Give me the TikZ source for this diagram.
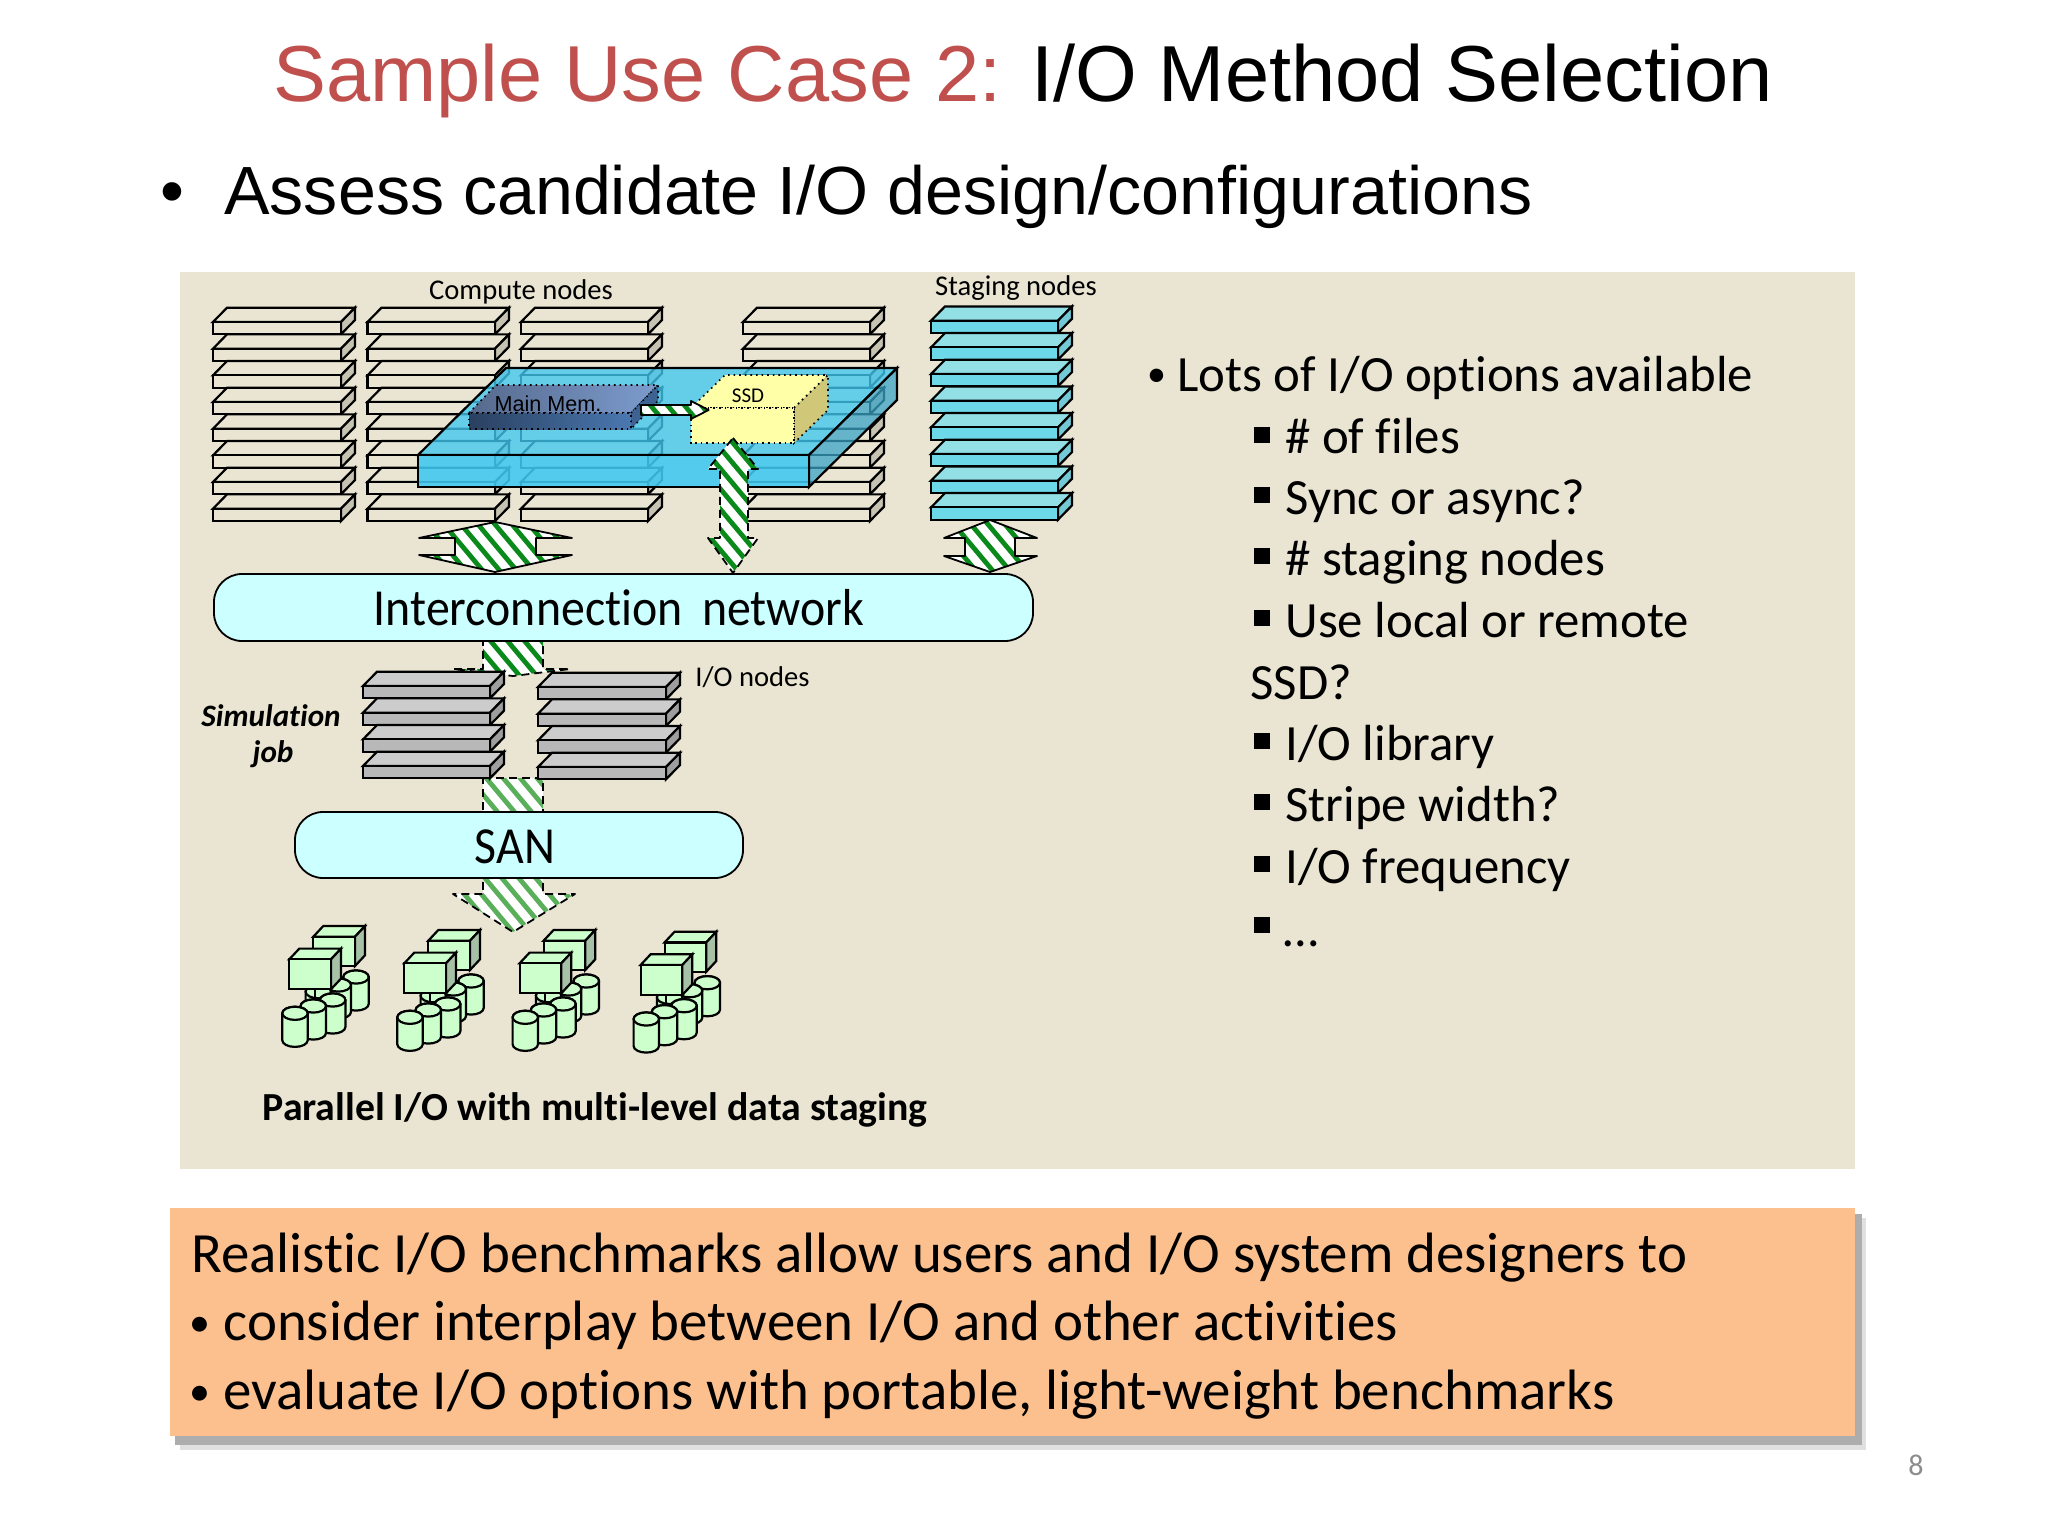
\documentclass[tikz,border=0pt]{standalone}
\usepackage{fontspec}
\setmainfont[Ligatures=CommonOff]{Carlito}
\newfontfamily\arialfont{Liberation Sans}
\newfontfamily\netfont[FakeStretch=0.92,Ligatures=CommonOff]{Carlito}
\definecolor{titlered}{HTML}{C0504D}
\definecolor{panelbg}{HTML}{E9E5D2}
\definecolor{notebg}{HTML}{FBC08E}
\definecolor{netblue}{HTML}{CCFFFF}
\definecolor{hatchdark}{HTML}{0A8A1A}
\definecolor{hatchlight}{HTML}{5AAF5A}
\definecolor{stagefront}{HTML}{6DD8E8}
\definecolor{stagetop}{HTML}{92DFE6}
\definecolor{stageside}{HTML}{74C9D6}
\definecolor{memfront}{HTML}{3FC8F0}
\definecolor{memside}{HTML}{3AA4C6}
\definecolor{ssdfill}{HTML}{FFFFA8}
\definecolor{ssdside}{HTML}{D0C878}
\definecolor{ramtopa}{HTML}{56698C}
\definecolor{ramtopb}{HTML}{7C9CCE}
\definecolor{ramfronta}{HTML}{2A4060}
\definecolor{ramfrontb}{HTML}{4A78B0}
\definecolor{ramside}{HTML}{3E6292}
\tikzstyle{cfront} = [draw, line width=1.1pt, fill=panelbg]
\tikzstyle{cside} = [draw, line width=1.1pt, fill=panelbg!85!black]
\tikzstyle{sfront} = [draw, line width=1.1pt, fill=stagefront]
\tikzstyle{stopface} = [draw, line width=1.1pt, fill=stagetop]
\tikzstyle{sside} = [draw, line width=1.1pt, fill=stageside]
\tikzstyle{iofront} = [draw, line width=1.1pt, fill=black!28]
\tikzstyle{iotop} = [draw, line width=1.1pt, fill=black!20]
\tikzstyle{ioside} = [draw, line width=1.1pt, fill=black!38]
\tikzstyle{dfront} = [draw, line width=1.1pt, fill=green!20!white]
\tikzstyle{dside} = [draw, line width=1.1pt, fill=green!30!black!35!white]
\tikzstyle{net} = [draw, line width=.9pt, fill=netblue, rounded corners=14pt, inner sep=0pt]
\tikzstyle{bulletmark} = [fill=black, inner sep=0pt, minimum size=8pt]
\tikzstyle{opt} = [anchor=base west, inner sep=0pt, font=\fontsize{25.4}{28}\selectfont]
\tikzstyle{note} = [anchor=base west, inner sep=0pt, font=\fontsize{28.45}{32}\selectfont]
\tikzstyle{small} = [anchor=base, inner sep=0pt, font=\fontsize{14.3}{16}\selectfont]
\tikzstyle{simlabel} = [anchor=base, inner sep=0pt, font=\fontsize{15.6}{18}\selectfont\bfseries\itshape]
\tikzstyle{netlabel} = [anchor=base, inner sep=0pt, font=\netfont\fontsize{26}{30}\selectfont]
\tikzstyle{hatchsolid} = [draw, line width=.9pt, line join=round]
\tikzstyle{hatchdashed} = [draw, line width=.9pt, line join=round, dash pattern=on 4pt off 2.5pt]
\newcommand{\slab}[9]{
  \path[#8] (#1,#2) -- ++(#5,-#6) -- ++(#3,0) -- ++(-#5,#6) -- cycle;
  \path[#9] (#1+#3,#2) -- ++(#5,-#6) -- ++(0,#4) -- ++(-#5,#6) -- cycle;
  \path[#7] (#1,#2) rectangle ++(#3,#4);
}
\newcommand{\stackblades}[7]{
  \foreach \i in {1,...,#4} {
    \pgfmathsetmacro{\yy}{#2+(\i-1)*26.67}
    \slab{#1}{\yy}{#3}{12.3}{14}{14.3}{#5}{#6}{#7}
  }
}
\newcommand{\hatcharrow}[3]{
  \fill[white] #3;
  \begin{scope}
    \clip #3;
    \foreach \s in {0,17,...,1100}
      \draw[#1, line width=2.4pt] (\s,400) -- ({\s+460},950);
  \end{scope}
  \path[#2] #3;
}
\newcommand{\disk}[2]{
  \path[dfront] (#1-12.7,#2) -- ++(0,27) arc (180:360:6.35pt and 3.3pt) -- ++(0,-27) arc (0:180:6.35pt and 3.3pt) -- cycle;
  \path[dfront] (#1,#2) ellipse (6.35pt and 3.3pt);
}
\newcommand{\diskgroup}[2]{
  \begin{scope}[shift={(#1,#2)}]
    \slab{313.3}{936.7}{41.7}{29.3}{10}{10.7}{dfront}{dfront}{dside}
    \disk{356}{977}
    \disk{338.3}{985}
    \disk{318.3}{991.7}
    \slab{289.3}{959.3}{41.7}{30}{10}{10.7}{dfront}{dfront}{dside}
    \draw[line width=1.1pt] (315,989) -- (315,1002);
    \disk{332.7}{1000}
    \disk{313.3}{1006}
    \disk{295}{1013.3}
  \end{scope}
}
\begin{document}
\begin{tikzpicture}[x=.5pt,y=-.5pt]
  \useasboundingbox (0,0) rectangle (2048,1536);

  \node[anchor=base, inner sep=0pt, font=\arialfont\fontsize{39.7}{44}\selectfont] (title) at (1023,101.7) {\textcolor{titlered}{Sample Use Case 2:} I/O Method Selection};
  \node[anchor=base, inner sep=0pt, font=\arialfont\fontsize{34.1}{38}\selectfont] (mainbullet) at (172,214) {•};
  \node[anchor=base west, inner sep=0pt, font=\arialfont\fontsize{34.1}{38}\selectfont] (subtitle) at (224,214) {Assess candidate I/O design/configurations};

  \fill[panelbg] (180,272) rectangle (1855,1169);
  \fill[black!12] (180,1218) rectangle (1866,1450);
  \fill[black!32] (175,1214) rectangle (1862,1445);
  \fill[notebg] (170,1208) rectangle (1855,1436);

  \stackblades{213}{322}{128}{8}{cfront}{cfront}{cside}
  \stackblades{367.5}{322}{127.5}{8}{cfront}{cfront}{cside}
  \stackblades{521}{322}{127}{8}{cfront}{cfront}{cside}
  \stackblades{743}{322}{127}{8}{cfront}{cfront}{cside}
  \stackblades{931}{320.7}{127}{8}{sfront}{stopface}{sside}

  \slab{418}{455}{391}{32}{88}{87}{draw, line width=1.1pt, fill=memfront, fill opacity=.88}{draw, line width=1.1pt, fill=memfront, fill opacity=.78}{draw, line width=1.1pt, fill=memside, fill opacity=.75}

  \path[draw, thick, dotted, left color=ramtopa, right color=ramtopb] (469,413) -- ++(27,-28) -- ++(162,0) -- ++(-27,28) -- cycle;
  \path[draw, thick, dotted, fill=ramside] (631,413) -- ++(27,-28) -- ++(0,16) -- ++(-27,28) -- cycle;
  \path[draw, thick, dotted, left color=ramfronta, right color=ramfrontb] (469,413) rectangle (631,429);
  \node[anchor=base, font=\arialfont\fontsize{10.8}{12}\selectfont, inner sep=0pt] (mainmem) at (548,411.7) {Main Mem.};

  \slab{691}{408}{103}{35}{34}{33}{draw, thick, dotted, fill=ssdfill}{draw, thick, dotted, fill=ssdfill}{draw, thick, dotted, fill=ssdside}
  \node[anchor=base, font=\fontsize{10.5}{12}\selectfont, inner sep=0pt] (ssd) at (748,402.7) {SSD};

  \hatcharrow{hatchdark}{hatchsolid}{(641,405) -- (691,405) -- (691,401) -- (708.6,410) -- (691,419) -- (691,415) -- (641,415) -- cycle}
  \hatcharrow{hatchdark}{hatchdashed}{(733,438) -- (758,469) -- (748,469) -- (748,538) -- (758,538) -- (733,573) -- (708,538) -- (720,538) -- (720,469) -- (708,469) -- cycle}
  \hatcharrow{hatchdark}{hatchsolid}{(495,522) -- (572,538) -- (536,538) -- (536,555) -- (572,555) -- (495,572) -- (419,555) -- (455,555) -- (455,538) -- (419,538) -- cycle}
  \hatcharrow{hatchdark}{hatchsolid}{(990,520) -- (1037,538) -- (1015,538) -- (1015,556) -- (1037,556) -- (990,572) -- (944,556) -- (965,556) -- (965,538) -- (944,538) -- cycle}
  \hatcharrow{hatchdark}{hatchdashed}{(483,641) -- (543,641) -- (543,669) -- (570,669) -- (513,676) -- (453,669) -- (483,669) -- cycle}
  \hatcharrow{hatchlight}{hatchdashed}{(483,778) -- (543,778) -- (543,812) -- (483,812) -- cycle}
  \hatcharrow{hatchlight}{hatchdashed}{(483,878) -- (543,878) -- (543,894) -- (575,894) -- (513,932) -- (453,894) -- (483,894) -- cycle}

  \stackblades{363}{686}{127}{4}{iofront}{iotop}{ioside}
  \stackblades{538}{687}{128}{4}{iofront}{iotop}{ioside}

  \node[net, minimum width=409.5pt, minimum height=33.5pt] (interconnect) at (623.5,607.5) {};
  \node[netlabel] (interlabel) at (619,625) {Interconnection\, network};
  \node[net, minimum width=224pt, minimum height=33pt] (san) at (519,845) {};
  \node[netlabel] (sanlabel) at (515,863.5) {SAN};

  \diskgroup{0}{0}
  \diskgroup{115}{4}
  \diskgroup{230.3}{4}
  \diskgroup{351.3}{5.7}

  \node[small] (compute) at (521,299) {Compute nodes};
  \node[small] (staging) at (1016,295) {Staging nodes};
  \node[small, anchor=base west] (ionodes) at (695,686) {I/O nodes};
  \node[simlabel] (simulation) at (271,726) {Simulation};
  \node[simlabel] (job) at (273,762) {job};
  \node[anchor=base, inner sep=0pt, font=\fontsize{19.9}{22}\selectfont\bfseries] (caption) at (595,1120.5) {Parallel I/O with multi-level data staging};

  \node[anchor=base, inner sep=0pt, font=\fontsize{19}{22}\selectfont] (optbullet) at (1156.5,386) {•};
  \node[opt] (optmain) at (1177,391) {Lots of I/O options available};
  \node[bulletmark] (b1) at (1262,435) {};
  \node[opt] (o1) at (1285,453) {\# of files};
  \node[bulletmark] (b2) at (1262,495) {};
  \node[opt] (o2) at (1285,514.5) {Sync or async?};
  \node[bulletmark] (b3) at (1262,556) {};
  \node[opt] (o3) at (1285,575.5) {\# staging nodes};
  \node[bulletmark] (b4) at (1262,618) {};
  \node[opt] (o4) at (1285,637.5) {Use local or remote};
  \node[opt] (o4b) at (1250,699) {SSD?};
  \node[bulletmark] (b5) at (1262,741) {};
  \node[opt] (o5) at (1285,760.5) {I/O library};
  \node[bulletmark] (b6) at (1262,802) {};
  \node[opt] (o6) at (1285,821.5) {Stripe width?};
  \node[bulletmark] (b7) at (1262,864) {};
  \node[opt] (o7) at (1285,883) {I/O frequency};
  \node[bulletmark] (b8) at (1262,925) {};
  \node[opt] (o8) at (1283,946) {…};

  \node[note] (n1) at (191,1272) {Realistic I/O benchmarks allow users and I/O system designers to};
  \node[anchor=base, inner sep=0pt, font=\fontsize{21}{24}\selectfont] (n2bullet) at (200,1336) {•};
  \node[note] (n2) at (223,1340) {consider interplay between I/O and other activities};
  \node[anchor=base, inner sep=0pt, font=\fontsize{21}{24}\selectfont] (n3bullet) at (200,1405) {•};
  \node[note] (n3) at (223,1409) {evaluate I/O options with portable, light-weight benchmarks};

  \node[text=black!45, font=\fontsize{15}{18}\selectfont] (pageno) at (1916,1465) {8};
\end{tikzpicture}
\end{document}
